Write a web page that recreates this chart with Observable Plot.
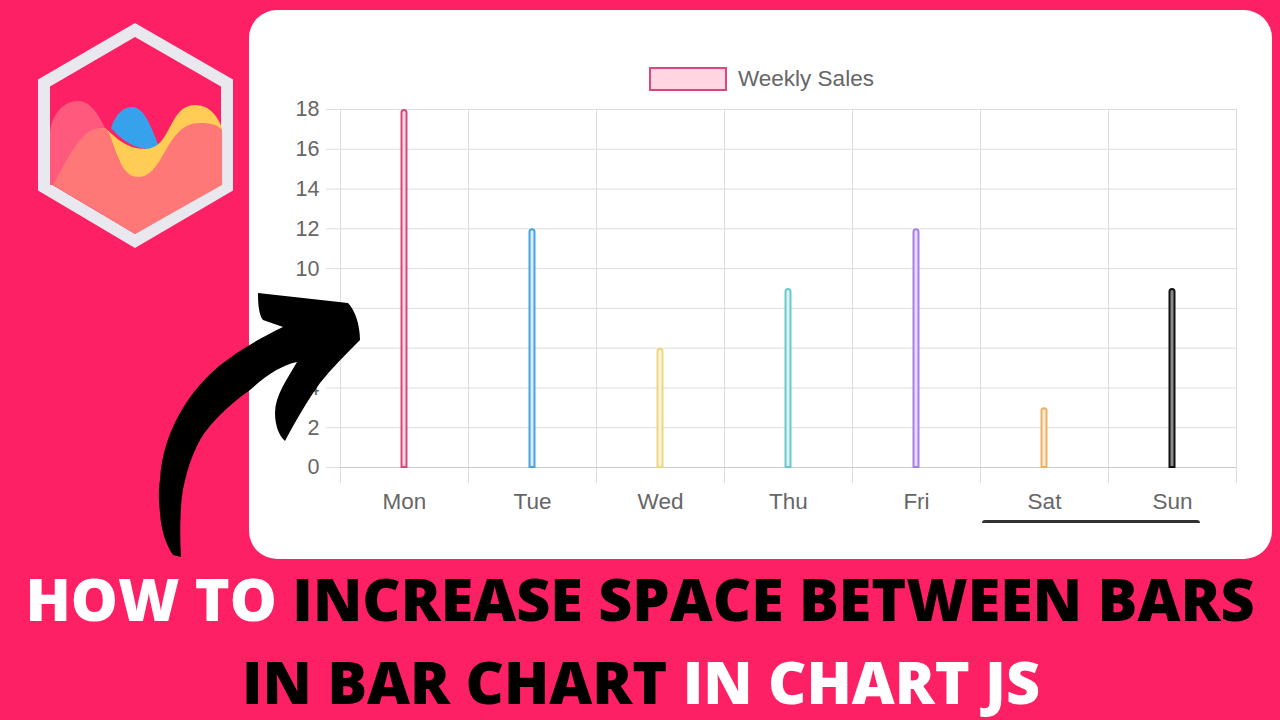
<!DOCTYPE html>
<html>
<head>
<meta charset="utf-8">
<script src="https://cdn.jsdelivr.net/npm/d3@7"></script>
<script src="https://cdn.jsdelivr.net/npm/@observablehq/plot@0.6"></script>
<style>
html,body{margin:0;padding:0;width:1280px;height:720px;overflow:hidden;background:#fe2064;}
#card{position:absolute;left:249px;top:10px;width:1023px;height:549px;background:#fff;border-radius:28px;}
#chart{position:absolute;left:0;top:0;}
#chart svg{background:transparent;display:block;}
#legend{position:absolute;left:649px;top:67px;height:24px;display:flex;align-items:center;font:22.5px "Liberation Sans",Arial,sans-serif;color:#666;}
#legend i{display:block;box-sizing:border-box;width:78px;height:24px;background:#ffd6e1;border:2px solid #d8487c;margin-right:11px;}
#under{position:absolute;left:982px;top:519.5px;width:218px;height:3px;background:#333;border-radius:8px 8px 0 0;}
.deco{position:absolute;left:0;top:0;}
.title{position:absolute;left:0;width:1280px;text-align:center;white-space:nowrap;font-family:"Open Sans",sans-serif;font-weight:800;font-size:59.2px;line-height:70px;color:#000;}
.title b{font-weight:800;color:#fff;}
</style>
</head>
<body>
<div id="card"></div>
<svg class="deco" width="1280" height="720" viewBox="0 0 1280 720">
  <path d="M135 30L44 83V187L135 241L227 187V83Z" fill="none" stroke="#e8e8ee" stroke-width="12"/>
  <path d="M50 185V133C52 112 65 101 78 101C92 101 100 118 106 130L60 185Z" fill="#ff5a7e"/>
  <path d="M111 128C116 113 124 107 132 107C145 107 152 130 159 146C150 152 130 150 111 128Z" fill="#36a2eb"/>
  <path d="M105 128C118 140 128 149 145 149C172 149 168 105 195 105C210 105 218 117 222 128L222 150L130 185Z" fill="#ffcd56"/>
  <path d="M53 185C65 165 80 128 100 128L106 128C115 140 118 177 138 177C165 177 165 123 200 123C212 123 218 125 222 130V185L135 234Z" fill="#ff7878"/>
</svg>
<div id="legend"><i></i><span>Weekly Sales</span></div>
<div id="chart"></div>
<div id="under"></div>
<svg class="deco" width="1280" height="720" viewBox="0 0 1280 720">
  <path d="M258 293L348 303C355 310 360 325 360 340C345 355 332 368 320 383C308 400 296 420 285 441C279 436 275 425 275 413C275 395 288 378 297 362C282 365 265 376 250 390C234 401 212 420 200 440C190 458 182 485 181 507C180 525 180 540 181 557L173 555C166 545 161 530 160 513C158 495 159 485 160 480C161 455 170 430 180 413C190 395 207 374 227 360C240 350 262 337 283 327L263 320C259 315 258 305 258 293Z" fill="#000"/>
</svg>
<div class="title" style="top:563px"><b>HOW TO</b> INCREASE SPACE BETWEEN BARS</div>
<div class="title" style="top:646px;left:1px">IN BAR CHART <b>IN CHART JS</b></div>
<script>
const days = ["Mon","Tue","Wed","Thu","Fri","Sat","Sun"];
const sales = [18,12,6,9,12,3,9];
const fills = ["#ffd6e1","#d7ecfb","#fff5dd","#dbf2f2","#e6dcff","#ffecd9","#8a8a8a"];
const strokes = ["#d8487c","#4aa3d9","#f0d67f","#6cc9c9","#a97fe3","#f0b060","#111111"];
const yTicks = [0,2,4,6,8,10,12,14,16,18];
const table = days.map((day,i)=>({day,sales:sales[i],fill:fills[i],stroke:strokes[i]}));
const gridColor = "#dddddd";
const plot = Plot.plot({
  width:1280,height:720,
  marginLeft:340,marginRight:44,marginTop:109,marginBottom:253,
  style:{background:"transparent",fontFamily:"'Liberation Sans',Arial,sans-serif"},
  x:{type:"band",domain:days,padding:0,label:null},
  y:{domain:[0,18],label:null},
  marks:[
    Plot.gridY(yTicks,{stroke:gridColor,strokeOpacity:1}),
    Plot.ruleX(days,{x:d=>d,dx:-64,y1:-0.8,y2:18,stroke:gridColor}),
    Plot.ruleX(["Sun"],{x:d=>d,dx:64,y1:-0.8,y2:18,stroke:gridColor}),
    Plot.ruleY([0],{stroke:"#cacaca"}),
    Plot.axisY(yTicks,{tickSize:14,tickPadding:7,stroke:gridColor,fill:"#666",fontSize:21.5,label:null}),
    Plot.axisX(days,{tickSize:0,tickPadding:26,fill:"#666",fontSize:22.5,label:null}),
    Plot.barY(table,{x:"day",y:"sales",fill:"fill",stroke:"stroke",strokeWidth:2,insetLeft:61.5,insetRight:61.5,insetTop:1,ry1:3})
  ]
});
document.getElementById("chart").append(plot);
</script>
</body>
</html>
